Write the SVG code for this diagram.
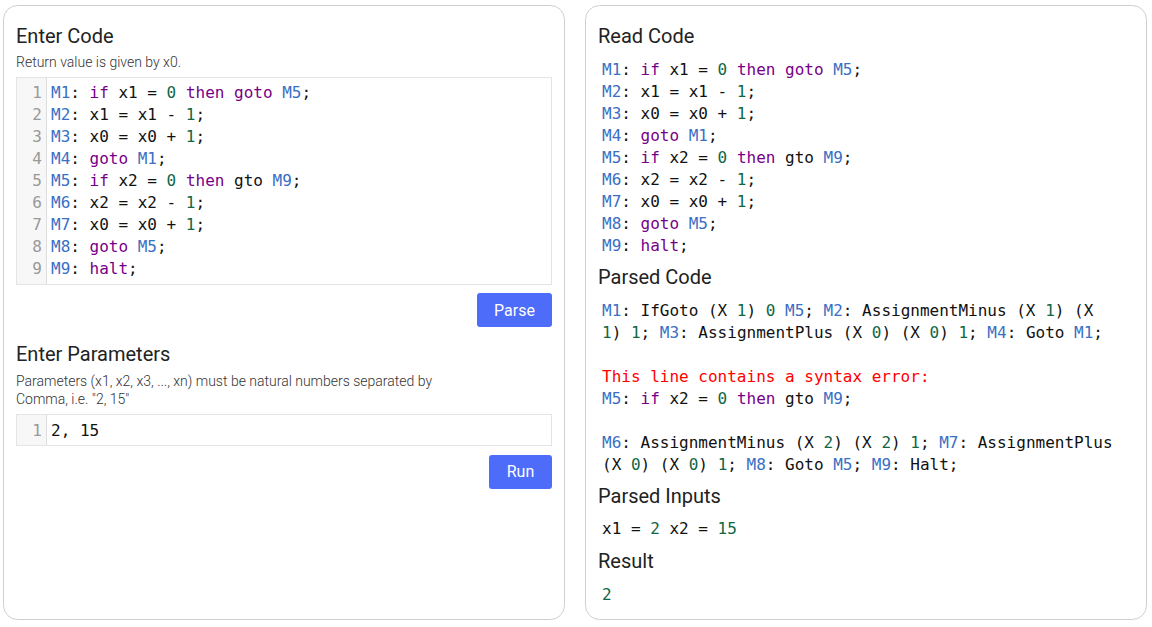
<svg xmlns="http://www.w3.org/2000/svg" width="1152" height="627" viewBox="0 0 1152 627" xml:space="preserve">
<style>
.panel{fill:#fff;stroke:#cfcfcf;stroke-width:1}
.h{font-family:Roboto,"Liberation Sans",sans-serif;font-size:20px;fill:#222}
.d{font-family:Roboto,"Liberation Sans",sans-serif;font-size:14px;fill:#333;font-weight:300}
.c{font-family:"DejaVu Sans Mono","Liberation Mono",monospace;font-size:16px;fill:#111}
.ln{font-family:"DejaVu Sans Mono","Liberation Mono",monospace;font-size:16px;fill:#999;text-anchor:end}
.m{fill:#3a6fc4}.k{fill:#770088}.n{fill:#116644}.r{fill:#ff0000}
.btn{fill:#4d6cfa}
.bt{font-family:Roboto,"Liberation Sans",sans-serif;font-size:16px;fill:#fff;text-anchor:middle}
.box{fill:#fff;stroke:#e4e4e4}
.gut{fill:#f7f7f7}
</style>
<rect width="1152" height="627" fill="#fff"/>
<g id="left">
<rect class="panel" x="3.5" y="5.5" width="561" height="614" rx="14"/>
<text class="h" x="16" y="43">Enter Code</text>
<text class="d" x="16" y="67">Return value is given by x0.</text>
<rect class="box" x="16.5" y="77.5" width="535" height="207"/>
<rect class="gut" x="17" y="78" width="29" height="206"/>
<line x1="46.5" y1="78" x2="46.5" y2="284" stroke="#ddd"/>
<text class="ln" x="42" y="98">1</text><text class="ln" x="42" y="120">2</text><text class="ln" x="42" y="142">3</text><text class="ln" x="42" y="164">4</text><text class="ln" x="42" y="186">5</text><text class="ln" x="42" y="208">6</text><text class="ln" x="42" y="230">7</text><text class="ln" x="42" y="252">8</text><text class="ln" x="42" y="274">9</text>
<text class="c" x="51" y="98"><tspan class="m">M1</tspan>: <tspan class="k">if</tspan> x1 = <tspan class="n">0</tspan> <tspan class="k">then</tspan> <tspan class="k">goto</tspan> <tspan class="m">M5</tspan>;</text>
<text class="c" x="51" y="120"><tspan class="m">M2</tspan>: x1 = x1 - <tspan class="n">1</tspan>;</text>
<text class="c" x="51" y="142"><tspan class="m">M3</tspan>: x0 = x0 + <tspan class="n">1</tspan>;</text>
<text class="c" x="51" y="164"><tspan class="m">M4</tspan>: <tspan class="k">goto</tspan> <tspan class="m">M1</tspan>;</text>
<text class="c" x="51" y="186"><tspan class="m">M5</tspan>: <tspan class="k">if</tspan> x2 = <tspan class="n">0</tspan> <tspan class="k">then</tspan> gto <tspan class="m">M9</tspan>;</text>
<text class="c" x="51" y="208"><tspan class="m">M6</tspan>: x2 = x2 - <tspan class="n">1</tspan>;</text>
<text class="c" x="51" y="230"><tspan class="m">M7</tspan>: x0 = x0 + <tspan class="n">1</tspan>;</text>
<text class="c" x="51" y="252"><tspan class="m">M8</tspan>: <tspan class="k">goto</tspan> <tspan class="m">M5</tspan>;</text>
<text class="c" x="51" y="274"><tspan class="m">M9</tspan>: <tspan class="k">halt</tspan>;</text>
<g id="parse"><rect class="btn" x="477" y="293" width="75" height="34" rx="3"/><text class="bt" x="514.5" y="316">Parse</text></g>
<text class="h" x="16" y="361">Enter Parameters</text>
<text class="d" x="16" y="386">Parameters (x1, x2, x3, ..., xn) must be natural numbers separated by</text>
<text class="d" x="16" y="404">Comma, i.e. "2, 15"</text>
<rect class="box" x="16.5" y="414.5" width="535" height="31"/>
<rect class="gut" x="17" y="415" width="29" height="30"/>
<line x1="46.5" y1="415" x2="46.5" y2="445" stroke="#ddd"/>
<text class="ln" x="42" y="436">1</text>
<text class="c" x="51" y="436">2, 15</text>
<g id="run"><rect class="btn" x="489" y="455" width="63" height="34" rx="3"/><text class="bt" x="520.5" y="477">Run</text></g>
</g>
<g id="right">
<rect class="panel" x="585.5" y="5.5" width="561" height="614" rx="14"/>
<text class="h" x="598" y="43">Read Code</text>
<text class="c" x="602" y="75"><tspan class="m">M1</tspan>: <tspan class="k">if</tspan> x1 = <tspan class="n">0</tspan> <tspan class="k">then</tspan> <tspan class="k">goto</tspan> <tspan class="m">M5</tspan>;</text>
<text class="c" x="602" y="97"><tspan class="m">M2</tspan>: x1 = x1 - <tspan class="n">1</tspan>;</text>
<text class="c" x="602" y="119"><tspan class="m">M3</tspan>: x0 = x0 + <tspan class="n">1</tspan>;</text>
<text class="c" x="602" y="141"><tspan class="m">M4</tspan>: <tspan class="k">goto</tspan> <tspan class="m">M1</tspan>;</text>
<text class="c" x="602" y="163"><tspan class="m">M5</tspan>: <tspan class="k">if</tspan> x2 = <tspan class="n">0</tspan> <tspan class="k">then</tspan> gto <tspan class="m">M9</tspan>;</text>
<text class="c" x="602" y="185"><tspan class="m">M6</tspan>: x2 = x2 - <tspan class="n">1</tspan>;</text>
<text class="c" x="602" y="207"><tspan class="m">M7</tspan>: x0 = x0 + <tspan class="n">1</tspan>;</text>
<text class="c" x="602" y="229"><tspan class="m">M8</tspan>: <tspan class="k">goto</tspan> <tspan class="m">M5</tspan>;</text>
<text class="c" x="602" y="251"><tspan class="m">M9</tspan>: <tspan class="k">halt</tspan>;</text>
<text class="h" x="598" y="284">Parsed Code</text>
<text class="c" x="602" y="316"><tspan class="m">M1</tspan>: IfGoto (X <tspan class="n">1</tspan>) <tspan class="n">0</tspan> <tspan class="m">M5</tspan>; <tspan class="m">M2</tspan>: AssignmentMinus (X <tspan class="n">1</tspan>) (X</text>
<text class="c" x="602" y="338"><tspan class="n">1</tspan>) <tspan class="n">1</tspan>; <tspan class="m">M3</tspan>: AssignmentPlus (X <tspan class="n">0</tspan>) (X <tspan class="n">0</tspan>) <tspan class="n">1</tspan>; <tspan class="m">M4</tspan>: Goto <tspan class="m">M1</tspan>;</text>
<text class="c r" x="602" y="382">This line contains a syntax error:</text>
<text class="c" x="602" y="404"><tspan class="m">M5</tspan>: <tspan class="k">if</tspan> x2 = <tspan class="n">0</tspan> <tspan class="k">then</tspan> gto <tspan class="m">M9</tspan>;</text>
<text class="c" x="602" y="448"><tspan class="m">M6</tspan>: AssignmentMinus (X <tspan class="n">2</tspan>) (X <tspan class="n">2</tspan>) <tspan class="n">1</tspan>; <tspan class="m">M7</tspan>: AssignmentPlus</text>
<text class="c" x="602" y="470">(X <tspan class="n">0</tspan>) (X <tspan class="n">0</tspan>) <tspan class="n">1</tspan>; <tspan class="m">M8</tspan>: Goto <tspan class="m">M5</tspan>; <tspan class="m">M9</tspan>: Halt;</text>
<text class="h" x="598" y="503">Parsed Inputs</text>
<text class="c" x="602" y="534">x1 = <tspan class="n">2</tspan>  x2 = <tspan class="n">15</tspan></text>
<text class="h" x="598" y="568">Result</text>
<text class="c n" x="602" y="600">2</text>
</g>
</svg>
